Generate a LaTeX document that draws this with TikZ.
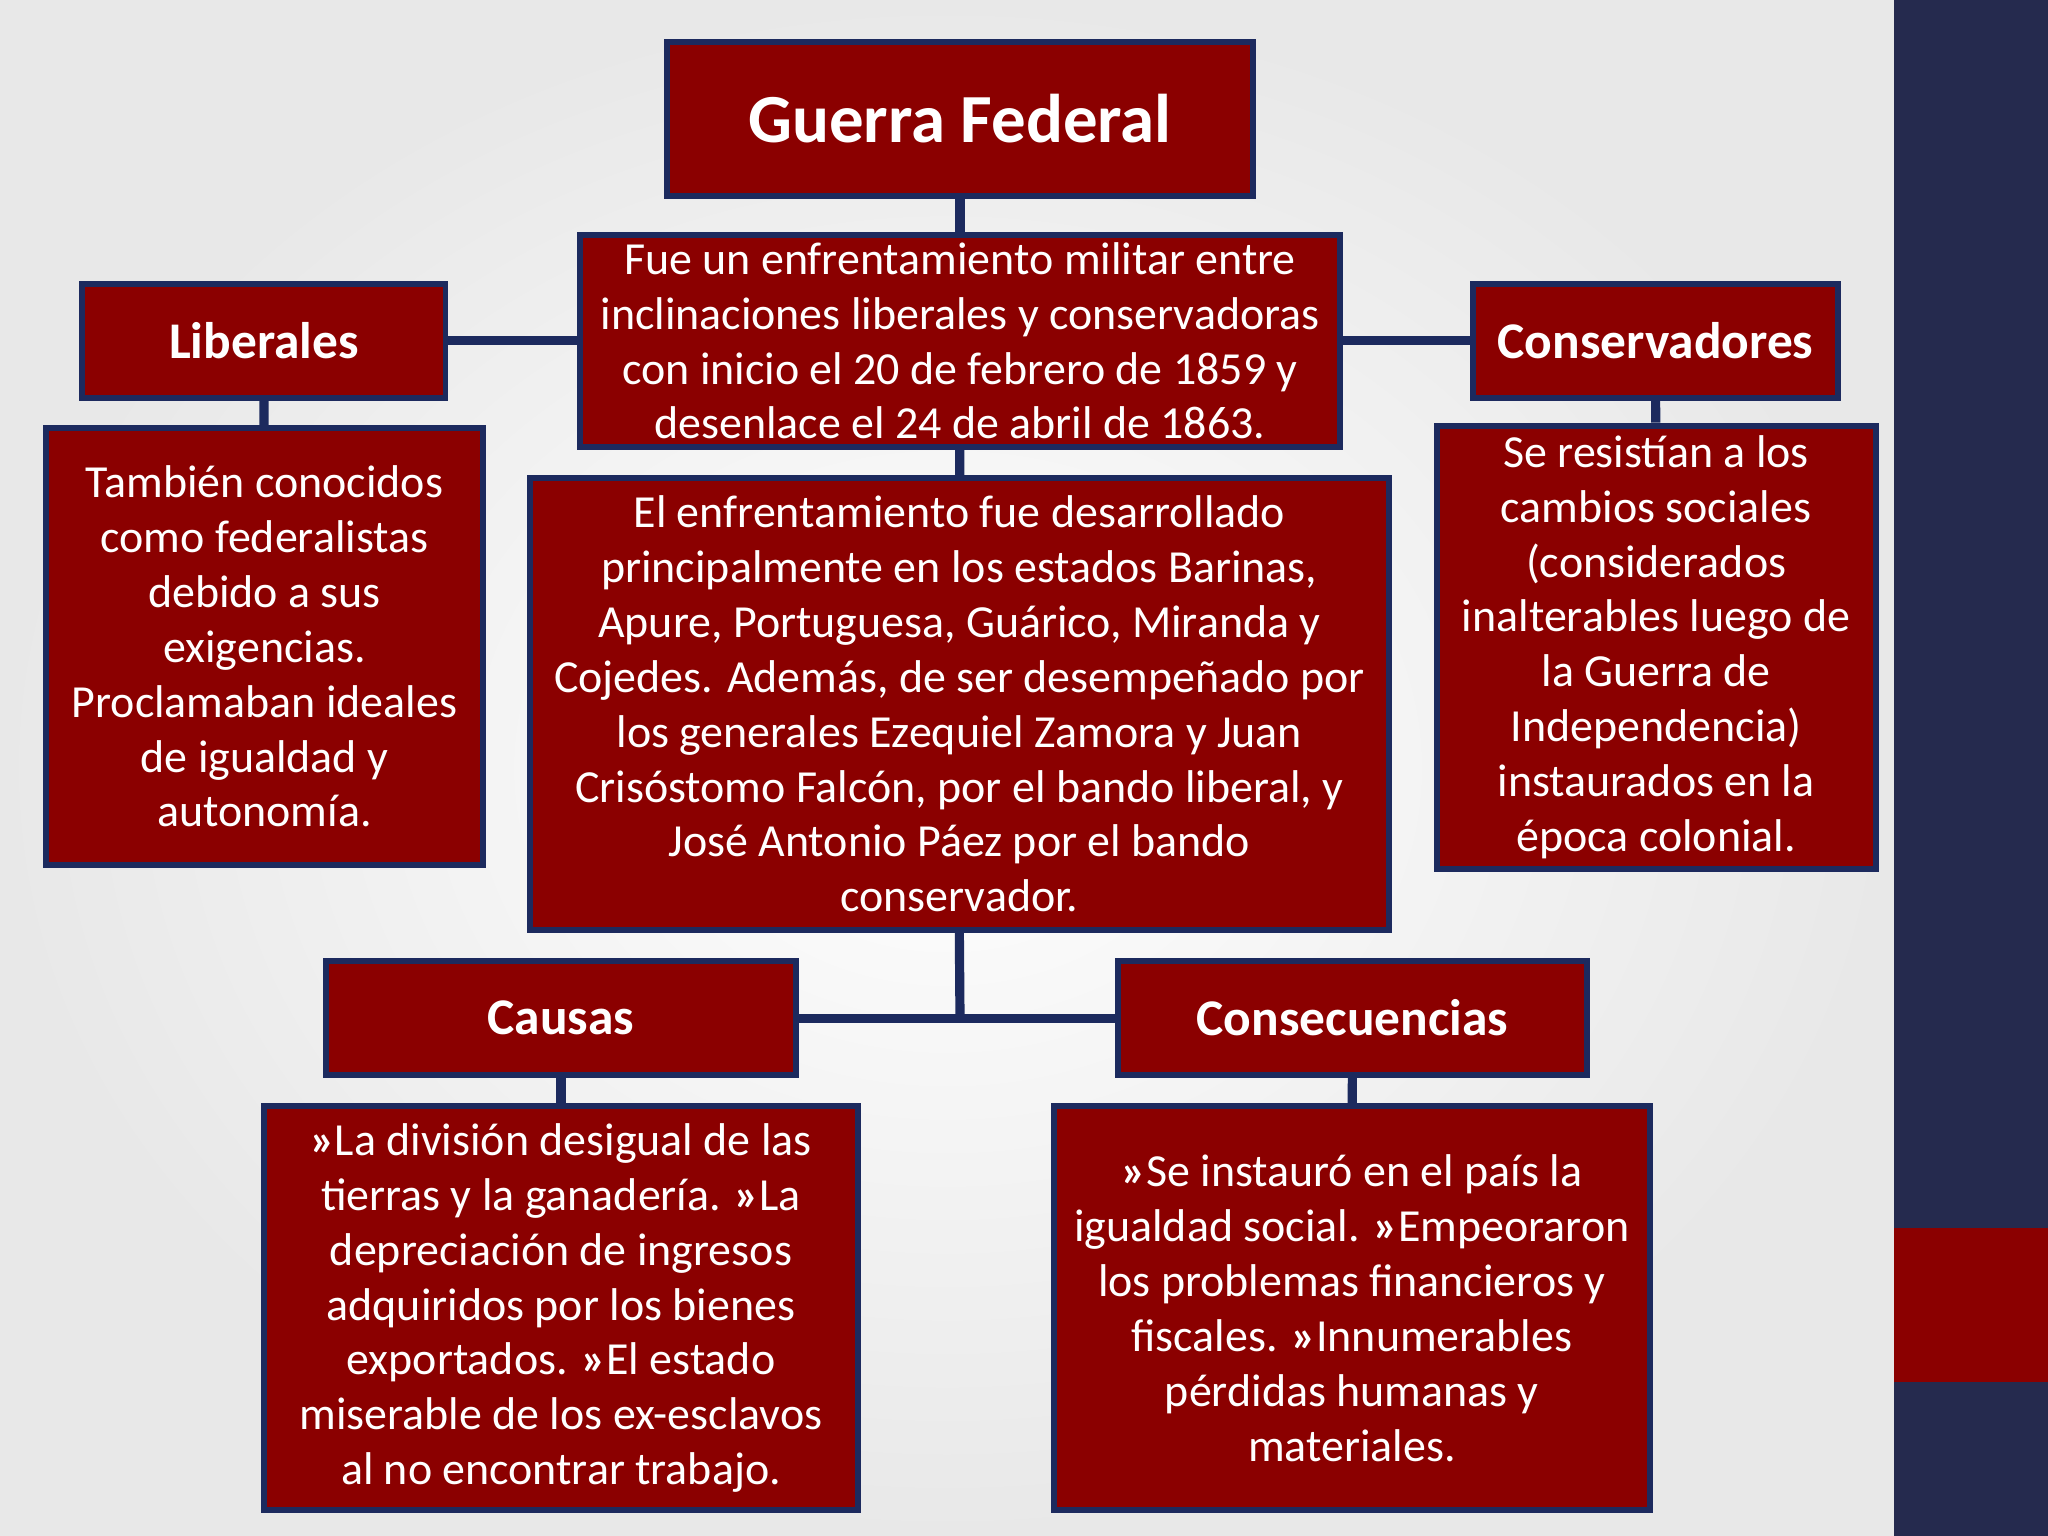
\documentclass[tikz,border=0pt]{standalone}
\usepackage{fontspec}
\setmainfont{Carlito}
\definecolor{boxred}{HTML}{8B0000}
\definecolor{navy}{HTML}{1C2A5E}
\definecolor{side}{HTML}{252A4E}
\tikzset{
  caja/.style={draw=navy, line width=1.3pt, fill=boxred, text=white, inner sep=0pt, align=center,
    font=\fontsize{10}{11.95}\selectfont},
  titulo/.style={caja, font=\bfseries\fontsize{11.2}{13}\selectfont},
  enlace/.style={navy, line width=2pt}
}
\begin{document}
\begin{tikzpicture}[x=0.01cm,y=-0.01cm]
\useasboundingbox (0,0) rectangle (1568,1176);
\shade[inner color=white, outer color=gray!18] (0,0) rectangle (1450,1176);
\fill[side] (1450,0) rectangle (1568,1176);
\fill[boxred] (1450,940) rectangle (1568,1058);
% cajas
\node[titulo, minimum width=4.48cm, minimum height=1.18cm, font=\bfseries\fontsize{15}{18}\selectfont] (guerra) at (735,91) {Guerra Federal};
\node[caja, minimum width=5.82cm, minimum height=1.62cm] (def) at (735,261)
  {Fue un enfrentamiento militar entre\\inclinaciones liberales y conservadoras\\con inicio el 20 de febrero de 1859 y\\desenlace el 24 de abril de 1863.};
\node[titulo, minimum width=2.78cm, minimum height=0.87cm] (lib) at (202,261) {Liberales};
\node[caja, minimum width=3.35cm, minimum height=3.34cm] (libtxt) at (202.5,495)
  {También conocidos\\como federalistas\\debido a sus\\exigencias.\\Proclamaban ideales\\de igualdad y\\autonomía.};
\node[titulo, minimum width=2.79cm, minimum height=0.87cm] (cons) at (1267.5,261) {Conservadores};
\node[caja, minimum width=3.36cm, minimum height=3.39cm] (constxt) at (1268,495.5)
  {Se resistían a los\\cambios sociales\\(considerados\\inalterables luego de\\la Guerra de\\Independencia)\\instaurados en la\\época colonial.};
\node[caja, minimum width=6.57cm, minimum height=3.46cm] (desarr) at (734.5,539)
  {El enfrentamiento fue desarrollado\\principalmente en los estados Barinas,\\Apure, Portuguesa, Guárico, Miranda y\\Cojedes. Además, de ser desempeñado por\\los generales Ezequiel Zamora y Juan\\Crisóstomo Falcón, por el bando liberal, y\\José Antonio Páez por el bando\\conservador.};
\node[titulo, minimum width=3.59cm, minimum height=0.87cm] (causas) at (429.5,779.5) {Causas};
\node[titulo, minimum width=3.59cm, minimum height=0.87cm] (consec) at (1035.5,779.5) {Consecuencias};
\node[caja, minimum width=4.55cm, minimum height=3.09cm] (causastxt) at (429.5,1001.5)
  {\textbf{»}La división desigual de las\\tierras y la ganadería. \textbf{»}La\\depreciación de ingresos\\adquiridos por los bienes\\exportados. \textbf{»}El estado\\miserable de los ex-esclavos\\al no encontrar trabajo.};
\node[caja, minimum width=4.56cm, minimum height=3.09cm] (consectxt) at (1035,1001.5)
  {\textbf{»}Se instauró en el país la\\igualdad social. \textbf{»}Empeoraron\\los problemas financieros y\\fiscales. \textbf{»}Innumerables\\pérdidas humanas y\\materiales.};
% enlaces
\coordinate (nudo) at (735,778);
\draw[enlace] (guerra) -- (def);
\draw[enlace] (def) -- (lib);
\draw[enlace] (def) -- (cons);
\draw[enlace] (lib) -- (libtxt);
\draw[enlace] (cons) -- (constxt);
\draw[enlace] (def) -- (desarr);
\draw[enlace] (desarr.south) -- (nudo);
\draw[enlace] (causas.east) -- (consec.west);
\draw[enlace] (causas) -- (causastxt);
\draw[enlace] (consec) -- (consectxt);
\end{tikzpicture}
\end{document}
